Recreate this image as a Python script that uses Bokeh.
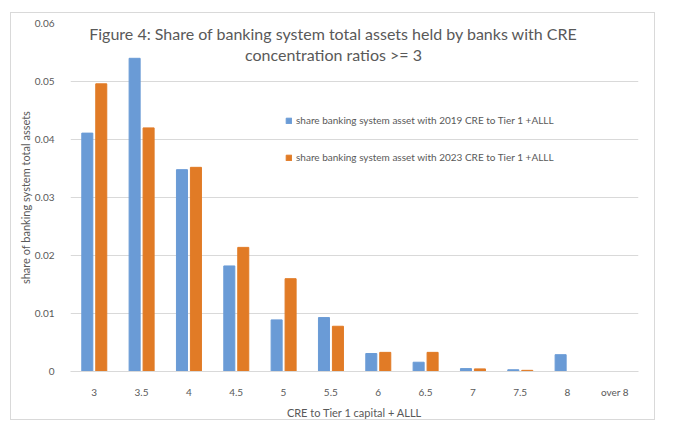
from bokeh.plotting import figure
from bokeh.models import ColumnDataSource, FactorRange, Range1d, Legend, LegendItem, Label, SingleIntervalTicker
from bokeh.transform import dodge
from bokeh.embed import file_html
from bokeh.resources import INLINE

categories = ["3", "3.5", "4", "4.5", "5", "5.5", "6", "6.5", "7", "7.5", "8", "over 8"]
share_2019 = [0.0411, 0.0540, 0.0348, 0.0182, 0.0089, 0.0093, 0.0031, 0.0016, 0.0005, 0.0003, 0.0029, 0.0]
share_2023 = [0.0496, 0.0420, 0.0352, 0.0214, 0.0160, 0.0078, 0.0033, 0.0033, 0.00045, 0.0002, 0.0, 0.0]
series_labels = ["share banking system asset with 2019 CRE to Tier 1 +ALLL",
                 "share banking system asset with 2023 CRE to Tier 1 +ALLL"]
title_lines = ["Figure 4: Share of banking system total assets held by banks with CRE",
               "concentration ratios >= 3"]

FONT = "Lato"
GRAY = "#595959"
BLUE = "#6A9BD6"
ORANGE = "#E17B26"

src = ColumnDataSource(dict(cat=categories, a=share_2019, b=share_2023))

p = figure(width=645, height=408, x_range=FactorRange(*categories, range_padding=0),
           y_range=Range1d(0, 0.06), output_backend="svg", toolbar_location=None,
           min_border_left=59, min_border_right=18, min_border_top=10, min_border_bottom=43)
p.styles = {"border": "1px solid #d9d9d9", "margin-left": "10px", "margin-top": "12px"}
p.outline_line_color = None

r1 = p.vbar(x=dodge("cat", -0.145, range=p.x_range), top="a", width=0.233, source=src,
            fill_color=BLUE, line_color=BLUE)
r2 = p.vbar(x=dodge("cat", 0.15, range=p.x_range), top="b", width=0.233, source=src,
            fill_color=ORANGE, line_color=ORANGE)

p.yaxis.ticker = SingleIntervalTicker(interval=0.01)
p.yaxis.major_label_overrides = {0: "0"}
p.yaxis.axis_line_color = None
p.yaxis.major_tick_line_color = None
p.yaxis.minor_tick_line_color = None
p.yaxis.major_label_standoff = 10
p.yaxis.axis_label = "share of banking system total assets"
p.yaxis.axis_label_standoff = 0

p.xaxis.axis_line_color = "#d9d9d9"
p.xaxis.major_tick_line_color = None
p.xaxis.major_label_standoff = 8
p.xaxis.axis_label = "CRE to Tier 1 capital + ALLL"
p.xaxis.axis_label_standoff = 5

for ax in (p.xaxis, p.yaxis):
    ax.major_label_text_font = FONT
    ax.major_label_text_font_size = "10px"
    ax.major_label_text_color = GRAY
    ax.axis_label_text_font = FONT
    ax.axis_label_text_font_size = "11px"
    ax.axis_label_text_font_style = "normal"
    ax.axis_label_text_color = GRAY

p.xgrid.grid_line_color = None
p.ygrid.grid_line_color = "#d9d9d9"

legend = Legend(items=[LegendItem(label=series_labels[0], renderers=[r1]),
                       LegendItem(label=series_labels[1], renderers=[r2])],
                location=(215, 208), orientation="vertical",
                glyph_width=7, glyph_height=7, label_height=12, label_standoff=4,
                spacing=25, padding=0, margin=0,
                border_line_color=None, background_fill_alpha=0,
                label_text_font=FONT, label_text_font_size="10px", label_text_color=GRAY)
p.add_layout(legend, "center")

title_y = [0.0582, 0.0547]
for i, t in enumerate(title_lines):
    p.add_layout(Label(x=263, y=title_y[i], x_units="screen", y_units="data",
                       text=t, text_align="center", text_baseline="middle",
                       text_font=FONT, text_font_size="16px", text_color=GRAY))

open("out.html", "w").write(file_html(p, INLINE))
